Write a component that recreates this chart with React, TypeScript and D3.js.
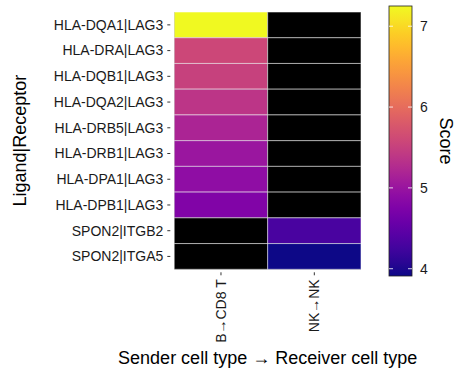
import React from "react";
import * as d3 from "d3";

const ligandReceptor = [
  "HLA-DQA1|LAG3",
  "HLA-DRA|LAG3",
  "HLA-DQB1|LAG3",
  "HLA-DQA2|LAG3",
  "HLA-DRB5|LAG3",
  "HLA-DRB1|LAG3",
  "HLA-DPA1|LAG3",
  "HLA-DPB1|LAG3",
  "SPON2|ITGB2",
  "SPON2|ITGA5",
];
const cellPairs = ["B\u2192CD8 T", "NK\u2192NK"];
// scores per pair (null = not present)
const scoreBtoCD8T: (number | null)[] = [7.25, 5.58, 5.51, 5.38, 5.18, 5.01, 4.91, 4.78, null, null];
const scoreNKtoNK: (number | null)[] = [null, null, null, null, null, null, null, null, 4.31, 3.91];
const legendTicks = [4, 5, 6, 7];
const scoreDomain = [3.91, 7.25];

export default function App() {
  const W = 474, H = 379;
  const left = 174.3, right = 361, top = 12, bottom = 269.3;
  const x = d3.scaleBand<string>().domain(cellPairs).range([left, right]);
  const y = d3.scaleBand<string>().domain(ligandReceptor).range([top, bottom]);
  const color = d3.scaleSequential(d3.interpolatePlasma).domain(scoreDomain as [number, number]);
  const series = [scoreBtoCD8T, scoreNKtoNK];

  const cbX = 389, cbW = 23, cbTop = 6, cbBot = 276;
  const cbScale = d3.scaleLinear().domain([scoreDomain[1], scoreDomain[0]]).range([cbTop, cbBot]);
  const stops = d3.range(0, 1.0001, 0.05);
  const font = "Liberation Sans, Arial, sans-serif";

  return (
    <svg width={W} height={H} style={{ position: "absolute", left: 0, top: 0 }} fontFamily={font}>
      <defs>
        <linearGradient id="cb" x1="0" y1="1" x2="0" y2="0">
          {stops.map((t) => (
            <stop key={t} offset={t} stopColor={d3.interpolatePlasma(t)} />
          ))}
        </linearGradient>
      </defs>
      <rect width={W} height={H} fill="white" />
      <rect x={left} y={top} width={right - left} height={bottom - top} fill="black" />
      {series.map((vals, ci) =>
        vals.map((v, ri) => (
          <rect
            key={`${ci}-${ri}`}
            x={x(cellPairs[ci])!}
            y={y(ligandReceptor[ri])!}
            width={x.bandwidth()}
            height={y.bandwidth()}
            fill={v == null ? "black" : color(v)}
            stroke="white"
            strokeOpacity={0.55}
            strokeWidth={1}
          />
        ))
      )}
      {ligandReceptor.map((lr) => {
        const cy = y(lr)! + y.bandwidth() / 2;
        return (
          <g key={lr}>
            <line x1={left - 7} x2={left - 4} y1={cy} y2={cy} stroke="#333" strokeWidth={1} />
            <text x={left - 11} y={cy} dy="0.35em" textAnchor="end" fontSize={14} fill="#1a1a1a">
              {lr}
            </text>
          </g>
        );
      })}
      {cellPairs.map((cp) => {
        const cx = x(cp)! + x.bandwidth() / 2;
        return (
          <g key={cp}>
            <line x1={cx} x2={cx} y1={bottom + 3} y2={bottom + 6} stroke="#333" strokeWidth={1} />
            <text
              transform={`translate(${cx},${bottom + 10}) rotate(-90)`}
              dy="0.35em"
              textAnchor="end"
              fontSize={14}
              fill="#1a1a1a"
            >
              {cp}
            </text>
          </g>
        );
      })}
      <text x={(left + right) / 2} y={364} textAnchor="middle" fontSize={18} fill="#000">
        {"Sender cell type \u2192 Receiver cell type"}
      </text>
      <text transform={`translate(26,${(top + bottom) / 2}) rotate(-90)`} textAnchor="middle" fontSize={18} fill="#000">
        Ligand|Receptor
      </text>
      <rect x={cbX} y={cbTop} width={cbW} height={cbBot - cbTop} fill="url(#cb)" stroke="#222" strokeWidth={0.8} />
      {legendTicks.map((t) => (
        <g key={t}>
          <line x1={cbX} x2={cbX + 4} y1={cbScale(t)} y2={cbScale(t)} stroke="white" strokeWidth={1} strokeOpacity={0.8} />
          <line x1={cbX + cbW - 4} x2={cbX + cbW} y1={cbScale(t)} y2={cbScale(t)} stroke="white" strokeWidth={1} strokeOpacity={0.8} />
          <text x={cbX + cbW + 8} y={cbScale(t)} dy="0.35em" fontSize={14} fill="#1a1a1a">
            {t}
          </text>
        </g>
      ))}
      <text transform={`translate(440,${(cbTop + cbBot) / 2}) rotate(90)`} textAnchor="middle" fontSize={18} fill="#000">
        Score
      </text>
    </svg>
  );
}
